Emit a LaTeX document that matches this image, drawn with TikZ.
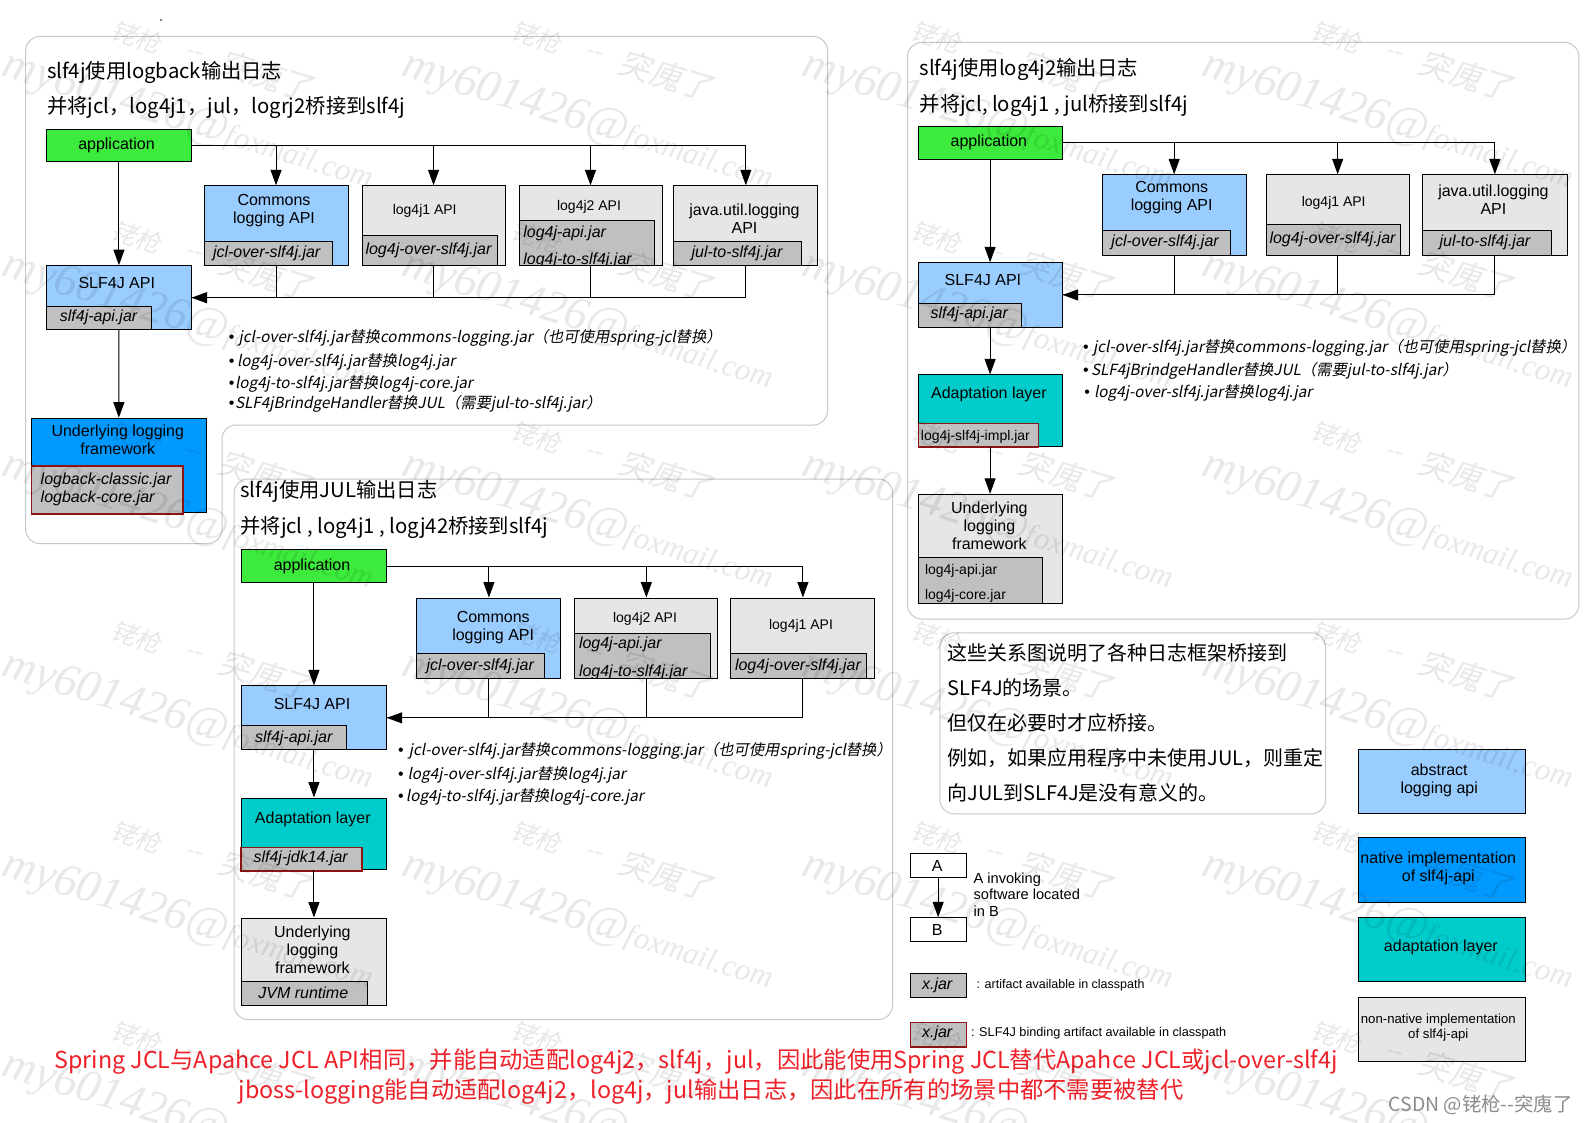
\documentclass[tikz,border=0pt]{standalone}
\usepackage{fontspec}
\usetikzlibrary{arrows.meta}
\setmainfont{Liberation Sans}
\newfontfamily\cjk{Noto Sans CJK SC}
\newfontfamily\cjkit[FakeSlant=0.2]{Noto Sans CJK SC}
\newfontfamily\wmserif{Liberation Serif}
\newcommand\szA{\fontsize{16}{18}\selectfont}
\newcommand\szB{\fontsize{14}{16}\selectfont}
\newcommand\szT{\fontsize{20.3}{24}\selectfont\cjk}
\newcommand\szN{\fontsize{20}{24}\selectfont\cjk}
\newcommand\szL{\fontsize{15.3}{18}\selectfont\cjkit}
\newcommand\blt[1]{{\normalfont\fontsize{16}{18}\selectfont•}\kern#1pt }
\newcommand\bx[6]{%
  \pgfmathsetmacro\bxw{#4-#2}\pgfmathsetmacro\bxh{#5-#3}%
  \node[#6,minimum width=\bxw pt,minimum height=\bxh pt,inner sep=0pt,anchor=north west] (#1) at (#2,#3) {};}
\newcommand\tx[5]{\node[tlabel,#4] (#1) at (#2,#3) {#5};}
\definecolor{cgreen}{RGB}{60,235,60}
\definecolor{clight}{RGB}{153,204,255}
\definecolor{cblue}{RGB}{0,153,255}
\definecolor{cteal}{RGB}{0,204,204}
\definecolor{cgrey}{RGB}{230,230,230}
\definecolor{cjar}{RGB}{192,192,192}
\definecolor{cred}{RGB}{140,20,20}
\definecolor{cpanel}{RGB}{200,200,200}
\definecolor{cmsg}{RGB}{240,32,40}
\tikzset{
  bxbase/.style={draw=black,line width=1pt},
  greenbox/.style={bxbase,fill=cgreen},
  lightbox/.style={bxbase,fill=clight},
  bluebox/.style={bxbase,fill=cblue},
  tealbox/.style={bxbase,fill=cteal},
  greybox/.style={bxbase,fill=cgrey},
  jarbox/.style={bxbase,fill=cjar},
  redjar/.style={draw=cred,line width=1.6pt,fill=cjar},
  whitebox/.style={bxbase,fill=white},
  panelbox/.style={draw=cpanel,line width=1pt,rounded corners=14pt},
  tlabel/.style={inner sep=0pt,outer sep=0pt,align=center,font=\szA,yshift=-.7pt},
  jartext/.style={font=\szA\itshape},
  smalltext/.style={font=\szB},
  titletext/.style={anchor=mid west,font=\szT,yshift=-4.3pt},
  notetext/.style={anchor=mid west,font=\szN,yshift=-4.3pt},
  listtext/.style={anchor=mid west,font=\szL,yshift=-2.3pt},
  leftblock/.style={anchor=west,align=left},
  link/.style={draw=black,line width=1pt},
  arrowlink/.style={link,-{Triangle[length=15.5pt,width=11pt]}},
  wmtext/.style={inner sep=0pt,text=black,text opacity=.09,rotate=-17},
}
\begin{document}
\begin{tikzpicture}[x=1pt,y=-1pt]
\useasboundingbox[fill=white] (0,0) rectangle (1587,1123);
\fill (161,20) circle (.8);
% ---------- panels
\draw[panelbox] (25.7,36.5) -- (827.5,36.5) -- (827.5,425) -- (222,425) -- (222,543.5) -- (25.7,543.5) -- cycle;
\bx{pj}{233.5}{478.5}{892}{1019}{panelbox}
\bx{pf}{907}{42}{1578.4}{618.5}{panelbox}
\bx{pn}{939.4}{632.3}{1325}{813.3}{panelbox}
% ---------- panel 1 boxes
\bx{aApp}{46.4}{129.5}{190.5}{161.2}{greenbox}
\bx{aCl}{203.5}{185.3}{347.6}{265.2}{lightbox}
\bx{aClJ}{203.5}{241.4}{331.5}{265.2}{jarbox}
\bx{aOne}{361.5}{185.3}{504.6}{265.2}{greybox}
\bx{aOneJ}{361.5}{235.2}{496.5}{265.2}{jarbox}
\bx{aTwo}{518.5}{185.3}{661.5}{265.2}{greybox}
\bx{aTwoJ}{518.5}{220.4}{653.5}{265.2}{jarbox}
\bx{aJul}{673.3}{185.3}{817.4}{265.2}{greybox}
\bx{aJulJ}{673.3}{241.4}{801.3}{265.2}{jarbox}
\bx{aSlf}{46.4}{265.2}{190.5}{329.2}{lightbox}
\bx{aSlfJ}{46.4}{305.5}{150.5}{329.2}{jarbox}
\bx{aUn}{30.5}{417.7}{206.2}{512.4}{bluebox}
\bx{aUnJ}{30.5}{464.9}{182.1}{513.1}{redjar}
% panel 1 labels
\tx{aT1}{47}{71}{titletext}{slf4j使用logback输出日志}
\tx{aT2}{47}{106}{titletext}{并将jcl，log4j1，jul，logrj2桥接到slf4j}
\tx{aL1}{116.5}{144.7}{}{application}
\tx{aL2}{274}{209.4}{}{Commons\\logging API}
\tx{aL3}{266.7}{252.8}{jartext}{jcl-over-slf4j.jar}
\tx{aL4}{424.7}{210.4}{smalltext}{log4j1 API}
\tx{aL5}{428.5}{249.7}{jartext}{log4j-over-slf4j.jar}
\tx{aL6}{589}{206.3}{smalltext}{log4j2 API}
\tx{aL7}{523.3}{232.5}{jartext,leftblock}{log4j-api.jar}
\begin{scope}
\clip (518.5,220) rectangle (653.5,264.6);
\tx{aL8}{523.3}{259.3}{jartext,leftblock}{log4j-to-slf4j.jar}
\end{scope}
\tx{aL9}{744.5}{217.6}{}{java.util.logging\\API}
\tx{aL10}{737}{252.8}{jartext}{jul-to-slf4j.jar}
\tx{aL11}{116.8}{282.4}{}{SLF4J API}
\tx{aL12}{98.6}{316.8}{jartext}{slf4j-api.jar}
\tx{aL13}{117.8}{438.6}{}{Underlying logging\\framework}
\tx{aL14}{40.7}{488.6}{jartext,leftblock}{logback-classic.jar\\logback-core.jar}
\tx{aB1}{228.8}{337.2}{listtext}{\blt{4.3}jcl-over-slf4j.jar替换commons-logging.jar（也可使用spring-jcl替换）}
\tx{aB2}{228.8}{360.9}{listtext}{\blt{2.7}log4j-over-slf4j.jar替换log4j.jar}
\tx{aB3}{228.8}{382.6}{listtext}{\blt{.6}log4j-to-slf4j.jar替换log4j-core.jar}
\tx{aB4}{228.8}{402.9}{listtext}{\blt{.6}SLF4jBrindgeHandler替换JUL（需要jul-to-slf4j.jar）}
% panel 1 links
\draw[arrowlink] (aApp.south) -- (aSlf.north);
\draw[arrowlink] (aSlf.south) -- (aUn.north);
\foreach \n in {aCl,aOne,aTwo,aJul}{
  \draw[arrowlink] (aApp.east) -| (\n.north);
  \draw[link] (\n.south) |- (aSlf.east);
}
\draw[arrowlink] (aCl.south) |- (aSlf.east);
% ---------- JUL panel boxes
\bx{bApp}{241.2}{549.3}{385.7}{581.8}{greenbox}
\bx{bCl}{416.4}{597.5}{560.4}{677.5}{lightbox}
\bx{bClJ}{416.4}{653.2}{544.4}{677.5}{jarbox}
\bx{bTwo}{574.3}{597.5}{717.4}{677.5}{greybox}
\bx{bTwoJ}{574.3}{632.5}{709.6}{677.5}{jarbox}
\bx{bOne}{730.4}{597.5}{874.4}{677.5}{greybox}
\bx{bOneJ}{730.4}{653.2}{865.7}{677.5}{jarbox}
\bx{bSlf}{241.2}{685.4}{385.7}{749.3}{lightbox}
\bx{bSlfJ}{241.2}{725.4}{345.8}{749.3}{jarbox}
\bx{bAd}{241.2}{797.5}{385.7}{869.3}{tealbox}
\bx{bAdJ}{240.4}{846.8}{360.9}{870}{redjar}
\bx{bUn}{241.2}{917.5}{385.7}{1005.4}{greybox}
\bx{bUnJ}{241.2}{981.4}{366.6}{1005.4}{jarbox}
\tx{bT1}{240.4}{489.6}{titletext}{slf4j使用JUL输出日志}
\tx{bT2}{240.4}{525.4}{titletext}{并将jcl , log4j1 , logj42桥接到slf4j}
\tx{bL1}{312}{565.7}{}{application}
\tx{bL2}{493.2}{627.3}{}{Commons\\logging API}
\tx{bL3}{480.2}{665.4}{jartext}{jcl-over-slf4j.jar}
\tx{bL4}{645}{618.2}{smalltext}{log4j2 API}
\tx{bL5}{579}{643.9}{jartext,leftblock}{log4j-api.jar}
\begin{scope}
\clip (574.3,632) rectangle (709.6,677);
\tx{bL6}{579}{671.8}{jartext,leftblock}{log4j-to-slf4j.jar}
\end{scope}
\tx{bL7}{801}{625.4}{smalltext}{log4j1 API}
\tx{bL8}{798}{665.4}{jartext}{log4j-over-slf4j.jar}
\tx{bL9}{312}{703.2}{}{SLF4J API}
\tx{bL10}{293.7}{737.5}{jartext}{slf4j-api.jar}
\tx{bL11}{312.8}{818.2}{}{Adaptation layer}
\tx{bL12}{300.7}{857.5}{jartext}{slf4j-jdk14.jar}
\tx{bL13}{312.4}{948.6}{}{Underlying\\logging\\framework}
\tx{bL14}{303.3}{992.5}{jartext}{JVM runtime}
\tx{bB1}{398.2}{749.6}{listtext}{\blt{5.1}jcl-over-slf4j.jar替换commons-logging.jar（也可使用spring-jcl替换）}
\tx{bB2}{398.2}{774}{listtext}{\blt{3.8}log4j-over-slf4j.jar替换log4j.jar}
\tx{bB3}{398.2}{795.7}{listtext}{\blt{2.1}log4j-to-slf4j.jar替换log4j-core.jar}
\draw[arrowlink] (bApp.south) -- (bSlf.north);
\draw[arrowlink] (bSlf.south) -- (bAd.north);
\draw[arrowlink] (bAd.south) -- (bUn.north);
\foreach \n in {bCl,bTwo,bOne}{
  \draw[arrowlink] (bApp.east) -| (\n.north);
  \draw[link] (\n.south) |- (bSlf.east);
}
\draw[arrowlink] (bCl.south) |- (bSlf.east);
% ---------- log4j2 panel boxes
\bx{cApp}{917.5}{126.4}{1061.7}{158.6}{greenbox}
\bx{cCl}{1101.5}{174.3}{1245.8}{254.6}{lightbox}
\bx{cClJ}{1101.5}{230.5}{1229.6}{254.6}{jarbox}
\bx{cOne}{1265.5}{174.3}{1408.8}{254.6}{greybox}
\bx{cOneJ}{1265.5}{224.4}{1400.4}{254.6}{jarbox}
\bx{cJul}{1422.3}{174.3}{1566.5}{254.6}{greybox}
\bx{cJulJ}{1422.3}{230.5}{1550.8}{254.6}{jarbox}
\bx{cSlf}{917.5}{262.3}{1061.7}{326.6}{lightbox}
\bx{cSlfJ}{917.5}{302.5}{1021.4}{326.6}{jarbox}
\bx{cAd}{917.5}{374.4}{1061.7}{445.6}{tealbox}
\bx{cAdJ}{917.5}{422.6}{1037.6}{446.4}{redjar}
\bx{cUn}{917.5}{493.8}{1061.7}{603.3}{greybox}
\bx{cUnJ}{917.5}{557.4}{1042.4}{603.3}{jarbox}
\tx{cT1}{919.7}{68.3}{titletext}{slf4j使用log4j2输出日志}
\tx{cT2}{919.7}{103.5}{titletext}{并将jcl, log4j1 , jul桥接到slf4j}
\tx{cL1}{988.9}{141.7}{}{application}
\tx{cL2}{1171.7}{196.5}{}{Commons\\logging API}
\tx{cL3}{1165.1}{241.6}{jartext}{jcl-over-slf4j.jar}
\tx{cL4}{1333.7}{202.6}{smalltext}{log4j1 API}
\tx{cL5}{1332.5}{238.6}{jartext}{log4j-over-slf4j.jar}
\tx{cL6}{1493.4}{198.6}{}{java.util.logging\\API}
\tx{cL7}{1484.9}{241.6}{jartext}{jul-to-slf4j.jar}
\tx{cL8}{982.9}{279.5}{}{SLF4J API}
\tx{cL9}{969.2}{313.6}{jartext}{slf4j-api.jar}
\tx{cL10}{988.9}{393.6}{}{Adaptation layer}
\tx{cL11}{975.4}{436.4}{smalltext}{log4j-slf4j-impl.jar}
\tx{cL12}{989.4}{524.8}{}{Underlying\\logging\\framework}
\tx{cL13}{925}{570}{smalltext,leftblock}{log4j-api.jar}
\tx{cL14}{925}{594.9}{smalltext,leftblock}{log4j-core.jar}
\tx{cB1}{1083.2}{346.9}{listtext}{\blt{4.4}jcl-over-slf4j.jar替换commons-logging.jar（也可使用spring-jcl替换）}
\tx{cB2}{1083.2}{369.8}{listtext}{\blt{2.2}SLF4jBrindgeHandler替换JUL（需要jul-to-slf4j.jar）}
\tx{cB3}{1084.4}{391.6}{listtext}{\blt{4.1}log4j-over-slf4j.jar替换log4j.jar}
\draw[arrowlink] (cApp.south) -- (cSlf.north);
\draw[arrowlink] (cSlf.south) -- (cAd.north);
\draw[arrowlink] (cAd.south) -- (cUn.north);
\foreach \n in {cCl,cOne,cJul}{
  \draw[arrowlink] (cApp.east) -| (\n.north);
  \draw[link] (\n.south) |- (cSlf.east);
}
\draw[arrowlink] (cCl.south) |- (cSlf.east);
% ---------- note
\tx{n1}{947.3}{653.3}{notetext}{这些关系图说明了各种日志框架桥接到}
\tx{n2}{947.3}{688.3}{notetext}{SLF4J的场景。}
\tx{n3}{947.3}{723.3}{notetext}{但仅在必要时才应桥接。}
\tx{n4}{947.3}{758.3}{notetext}{例如，如果应用程序中未使用JUL，则重定}
\tx{n5}{947.3}{793.3}{notetext}{向JUL到SLF4J是没有意义的。}
% ---------- legend
\bx{kAbs}{1357.5}{749.3}{1525.3}{813.3}{lightbox}
\bx{kNat}{1357.5}{837.3}{1525.3}{901.7}{bluebox}
\bx{kAda}{1357.5}{917.3}{1525.3}{981.3}{tealbox}
\bx{kNon}{1357.5}{997.3}{1525.3}{1061.3}{greybox}
\tx{kL1}{1439.2}{780}{}{abstract\\ logging api}
\tx{kL2}{1438.3}{867.7}{}{native implementation\\ of slf4j-api}
\tx{kL3}{1440.9}{946.7}{}{adaptation layer}
\tx{kL4}{1438.3}{1027}{font=\fontsize{13.2}{15.4}\selectfont}{non-native implementation\\ of slf4j-api}
\bx{kA}{909.6}{853.3}{965.7}{877.3}{whitebox}
\bx{kB}{909.6}{917.3}{965.7}{941.3}{whitebox}
\tx{kLa}{937.2}{865.3}{}{A}
\tx{kLb}{937.2}{929.3}{}{B}
\draw[arrowlink] (kA.south) -- (kB.north);
\tx{kLc}{973.6}{894}{leftblock,font=\fontsize{14.6}{16.6}\selectfont}{A invoking\\software located\\in B}
\bx{kX}{909.6}{973.3}{965.7}{997.3}{jarbox}
\bx{kY}{909.6}{1021.7}{965.7}{1046}{redjar}
\tx{kLx}{937.2}{985}{jartext}{x.jar}
\tx{kLy}{937.2}{1033}{jartext}{x.jar}
\tx{kLd}{976.6}{984.7}{leftblock,font=\fontsize{12.5}{15}\selectfont}{: artifact available in classpath}
\tx{kLe}{971}{1032.7}{leftblock,font=\fontsize{12.7}{15}\selectfont}{: SLF4J binding artifact available in classpath}
% ---------- red note
\tx{rA}{696}{1060.7}{text=cmsg,font=\fontsize{23.3}{28}\selectfont\cjk}{Spring JCL与Apahce JCL API相同，并能自动适配log4j2，slf4j，jul，因此能使用Spring JCL替代Apahce JCL或jcl-over-slf4j}
\tx{rB}{711}{1091}{text=cmsg,font=\fontsize{23.3}{28}\selectfont\cjk}{jboss-logging能自动适配log4j2，log4j，jul输出日志，因此在所有的场景中都不需要被替代}
% ---------- watermark
\foreach \i in {0,...,3}{
  \foreach \j in {0,...,5}{
    \pgfmathsetmacro\wx{136+400*\i}
    \pgfmathsetmacro\wy{37+200*\j}
    \node[wmtext,anchor=center,font=\fontsize{25}{28}\selectfont\cjkit] (wa\i\j) at (\wx,\wy) {铑枪};
    \node[wmtext,anchor=center,font=\fontsize{25}{28}\selectfont\cjkit] (wb\i\j) at (\wx+57,\wy+18) {--};
    \node[wmtext,anchor=center,font=\fontsize{32}{34}\selectfont\cjkit] (wc\i\j) at (\wx+130,\wy+38) {突廆了};
    \node[wmtext,anchor=center,font=\fontsize{46}{50}\selectfont\wmserif\itshape] (wd\i\j) at (\wx+52,\wy+85) {my601426@{\fontsize{31}{33}\selectfont foxmail.com}};
  }
}
\node[inner sep=0pt,anchor=mid west,text=black!45,font=\fontsize{19.4}{22}\selectfont\cjk] (csdn) at (1388.4,1109) {CSDN @铑枪--突廆了};
\end{tikzpicture}
\end{document}
